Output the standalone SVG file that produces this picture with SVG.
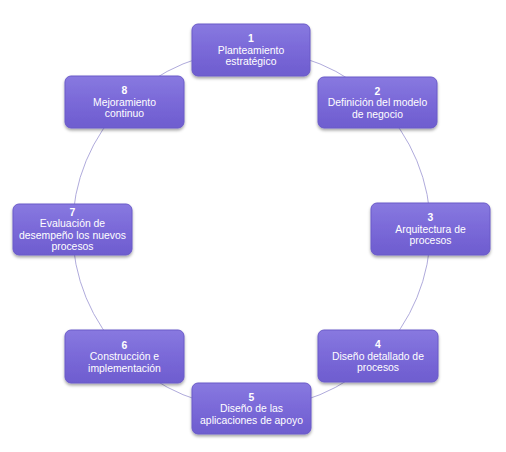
<svg xmlns="http://www.w3.org/2000/svg" width="506" height="452" viewBox="0 0 506 452">
<defs>
<linearGradient id="g" x1="0" y1="0" x2="0" y2="1">
<stop offset="0" stop-color="#8879e0"/>
<stop offset="0.5" stop-color="#7a69d8"/>
<stop offset="1" stop-color="#6e5dcf"/>
</linearGradient>
<filter id="sh" x="-10%" y="-10%" width="120%" height="130%">
<feDropShadow dx="0" dy="2" stdDeviation="1.5" flood-color="#000" flood-opacity="0.35"/>
</filter>
</defs>
<style>
.box{fill:url(#g);stroke:#6a5ac8;stroke-width:1;filter:url(#sh)}
.t{font-family:"Liberation Sans",Arial,sans-serif;font-size:10.4px;fill:#ffffff;text-anchor:middle}
.n{font-weight:bold}
.c{fill:none;stroke:#b0abdc;stroke-width:1}
</style>
<rect width="506" height="452" fill="#ffffff"/>
<g id="connectors">
<circle class="c" cx="251.5" cy="229.3" r="179"/>
</g>
<g id="node1">
<rect class="box" x="192" y="24" width="118" height="52" rx="6"/>
<text class="t n" x="251" y="42">1</text>
<text class="t" x="251" y="53.5">Planteamiento</text>
<text class="t" x="251" y="65">estratégico</text>
</g>
<g id="node2">
<rect class="box" x="318" y="77" width="119" height="51" rx="6"/>
<text class="t n" x="377.5" y="94.5">2</text>
<text class="t" x="377.5" y="106">Definición del modelo</text>
<text class="t" x="377.5" y="117.5">de negocio</text>
</g>
<g id="node3">
<rect class="box" x="371" y="203" width="119" height="52" rx="6"/>
<text class="t n" x="430.5" y="221">3</text>
<text class="t" x="430.5" y="232.5">Arquitectura de</text>
<text class="t" x="430.5" y="244">procesos</text>
</g>
<g id="node4">
<rect class="box" x="318" y="330" width="120" height="52" rx="6"/>
<text class="t n" x="378" y="348">4</text>
<text class="t" x="378" y="359.5">Diseño detallado de</text>
<text class="t" x="378" y="371">procesos</text>
</g>
<g id="node5">
<rect class="box" x="192" y="383" width="119" height="51" rx="6"/>
<text class="t n" x="251.5" y="400.5">5</text>
<text class="t" x="251.5" y="412">Diseño de las</text>
<text class="t" x="251.5" y="423.5">aplicaciones de apoyo</text>
</g>
<g id="node6">
<rect class="box" x="65" y="330" width="119" height="53" rx="6"/>
<text class="t n" x="124.5" y="348.5">6</text>
<text class="t" x="124.5" y="360">Construcción e</text>
<text class="t" x="124.5" y="371.5">implementación</text>
</g>
<g id="node7">
<rect class="box" x="13" y="204" width="119" height="51" rx="6"/>
<text class="t n" x="72.5" y="215.5">7</text>
<text class="t" x="72.5" y="227">Evaluación de</text>
<text class="t" x="72.5" y="238.5">desempeño los nuevos</text>
<text class="t" x="72.5" y="250">procesos</text>
</g>
<g id="node8">
<rect class="box" x="65" y="76" width="119" height="52" rx="6"/>
<text class="t n" x="124.5" y="94">8</text>
<text class="t" x="124.5" y="105.5">Mejoramiento</text>
<text class="t" x="124.5" y="117">continuo</text>
</g>
</svg>
